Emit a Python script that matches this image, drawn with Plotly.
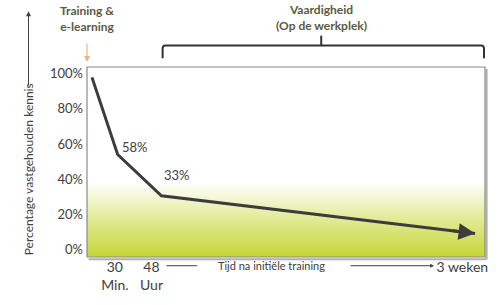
import plotly.graph_objects as go

# ---- data ----
time_pos = [1.25, 7.7, 18.7, 97.5]          # schematic time position (0..100 axis)
retention = [98, 54, 30.5, 9]               # % retained knowledge
label_texts = ["58%", "33%"]                # printed data labels (points 2 and 3)
tick_pos = [7.0, 16.2, 94.3]
tick_labels = ["30<br>Min.", "48<br>Uur", "3 weken"]
y_ticks = [0, 20, 40, 60, 80, 100]

FONT = "Lato"
TXT = "#404040"
HEAD = "#5a5a44"

fig = go.Figure()

# gradient band at the bottom of the plot
fig.add_trace(go.Scatter(
    x=[0, 100, 100, 0, 0], y=[-4.4, -4.4, 38, 38, -4.4],
    mode="lines", fill="toself", line=dict(width=0),
    fillgradient=dict(type="vertical",
                      colorscale=[[0, "#c5d534"], [0.55, "#e4ec9e"], [1, "#ffffff"]]),
    hoverinfo="skip", showlegend=False))

# retention curve
fig.add_trace(go.Scatter(
    x=time_pos, y=retention, mode="lines",
    line=dict(color="#3c3c3c", width=3), hoverinfo="skip", showlegend=False))

ann = []
# arrowhead at curve end
x0, y0 = time_pos[-2], retention[-2]
x1, y1 = time_pos[-1], retention[-1]
axv = x1 - 6
ayv = y0 + (y1 - y0) * (axv - x0) / (x1 - x0)
ann.append(dict(x=x1, y=y1, ax=axv, ay=ayv, xref="x", yref="y", axref="x", ayref="y",
                showarrow=True, arrowhead=2, arrowsize=1.1, arrowwidth=3,
                arrowcolor="#3c3c3c", text=""))

# data labels
shifts = [(17, 8), (16, 21)]
for i, (t, (dx, dy)) in enumerate(zip(label_texts, shifts)):
    ann.append(dict(x=time_pos[i + 1], y=retention[i + 1], xref="x", yref="y",
                    text=t, showarrow=False, xshift=dx, yshift=dy,
                    font=dict(family=FONT, size=13, color=TXT)))

# header texts
ann.append(dict(x=0.0, y=1.255, xref="paper", yref="paper", text="<b>Training &amp;<br>e-learning</b>",
                showarrow=False, xanchor="center", yanchor="middle",
                font=dict(family=FONT, size=12, color=HEAD)))
ann.append(dict(x=0.5885, y=1.26, xref="paper", yref="paper", text="<b>Vaardigheid<br>(Op de werkplek)</b>",
                showarrow=False, xanchor="center", yanchor="middle",
                font=dict(family=FONT, size=12, color=HEAD)))
# orange arrow
ann.append(dict(x=0.0, y=1.026, xref="paper", yref="paper", ax=0, ay=-20, text="",
                showarrow=True, arrowhead=2, arrowsize=1, arrowwidth=1.2, arrowcolor="#e8b584"))

# y axis title + arrow
ann.append(dict(x=-0.147, y=0.464, xref="paper", yref="paper", text="Percentage vastgehouden kennis",
                textangle=-90, showarrow=False, xanchor="center", yanchor="middle",
                font=dict(family=FONT, size=12, color=TXT)))
ann.append(dict(x=-0.147, y=1.294, xref="paper", yref="paper", ax=0, ay=76, text="",
                showarrow=True, arrowhead=2, arrowsize=1, arrowwidth=1, arrowcolor="#404040"))

# x axis description
ann.append(dict(x=0.464, y=-0.046, xref="paper", yref="paper", text="Tijd na initiële training",
                showarrow=False, xanchor="center", yanchor="middle",
                font=dict(family=FONT, size=11, color=TXT)))
ann.append(dict(x=0.872, y=-0.046, xref="paper", yref="paper", ax=-85, ay=0, text="",
                showarrow=True, arrowhead=2, arrowsize=0.8, arrowwidth=1, arrowcolor="#404040"))

shapes = [
    # left line next to x description
    dict(type="line", xref="paper", yref="paper", x0=0.1995, x1=0.2768, y0=-0.046, y1=-0.046,
         line=dict(color="#404040", width=1)),
    # brace
    dict(type="path", xref="paper", yref="paper",
         path="M 0.19,1.046 L 0.19,1.095 Q 0.19,1.113 0.197,1.113 L 0.99,1.113 Q 0.9975,1.113 0.9975,1.095 L 0.9975,1.046",
         line=dict(color="#333333", width=2)),
    dict(type="line", xref="paper", yref="paper", x0=0.5885, x1=0.5885, y0=1.113, y1=1.165,
         line=dict(color="#333333", width=2)),
    # shadow of plot frame
    dict(type="line", xref="paper", yref="paper", x0=1.004, x1=1.004, y0=-0.012, y1=0.99,
         line=dict(color="#b0b0b0", width=2)),
    dict(type="line", xref="paper", yref="paper", x0=0.004, x1=1.004, y0=-0.012, y1=-0.012,
         line=dict(color="#b0b0b0", width=2)),
    # plot frame
    dict(type="rect", xref="paper", yref="paper", x0=0, x1=1, y0=0, y1=1,
         line=dict(color="#8a8a8a", width=1.2)),
]

fig.update_layout(
    width=500, height=305,
    margin=dict(l=87, r=12, t=67, b=44),
    paper_bgcolor="white", plot_bgcolor="white",
    showlegend=False,
    font=dict(family=FONT, color=TXT),
    xaxis=dict(range=[0, 100], showgrid=False, zeroline=False, showline=False,
               tickmode="array", tickvals=tick_pos, ticktext=tick_labels,
               tickfont=dict(family=FONT, size=14, color=TXT), ticks="", fixedrange=True),
    yaxis=dict(range=[-4.4, 103.9], showgrid=False, zeroline=False, showline=False,
               tickmode="array", tickvals=y_ticks, ticktext=[f"{v}%" for v in y_ticks],
               tickfont=dict(family=FONT, size=13, color=TXT), ticks="", ticklabelstandoff=3,
               fixedrange=True),
    annotations=ann, shapes=shapes,
)

fig.write_html("out.html")
